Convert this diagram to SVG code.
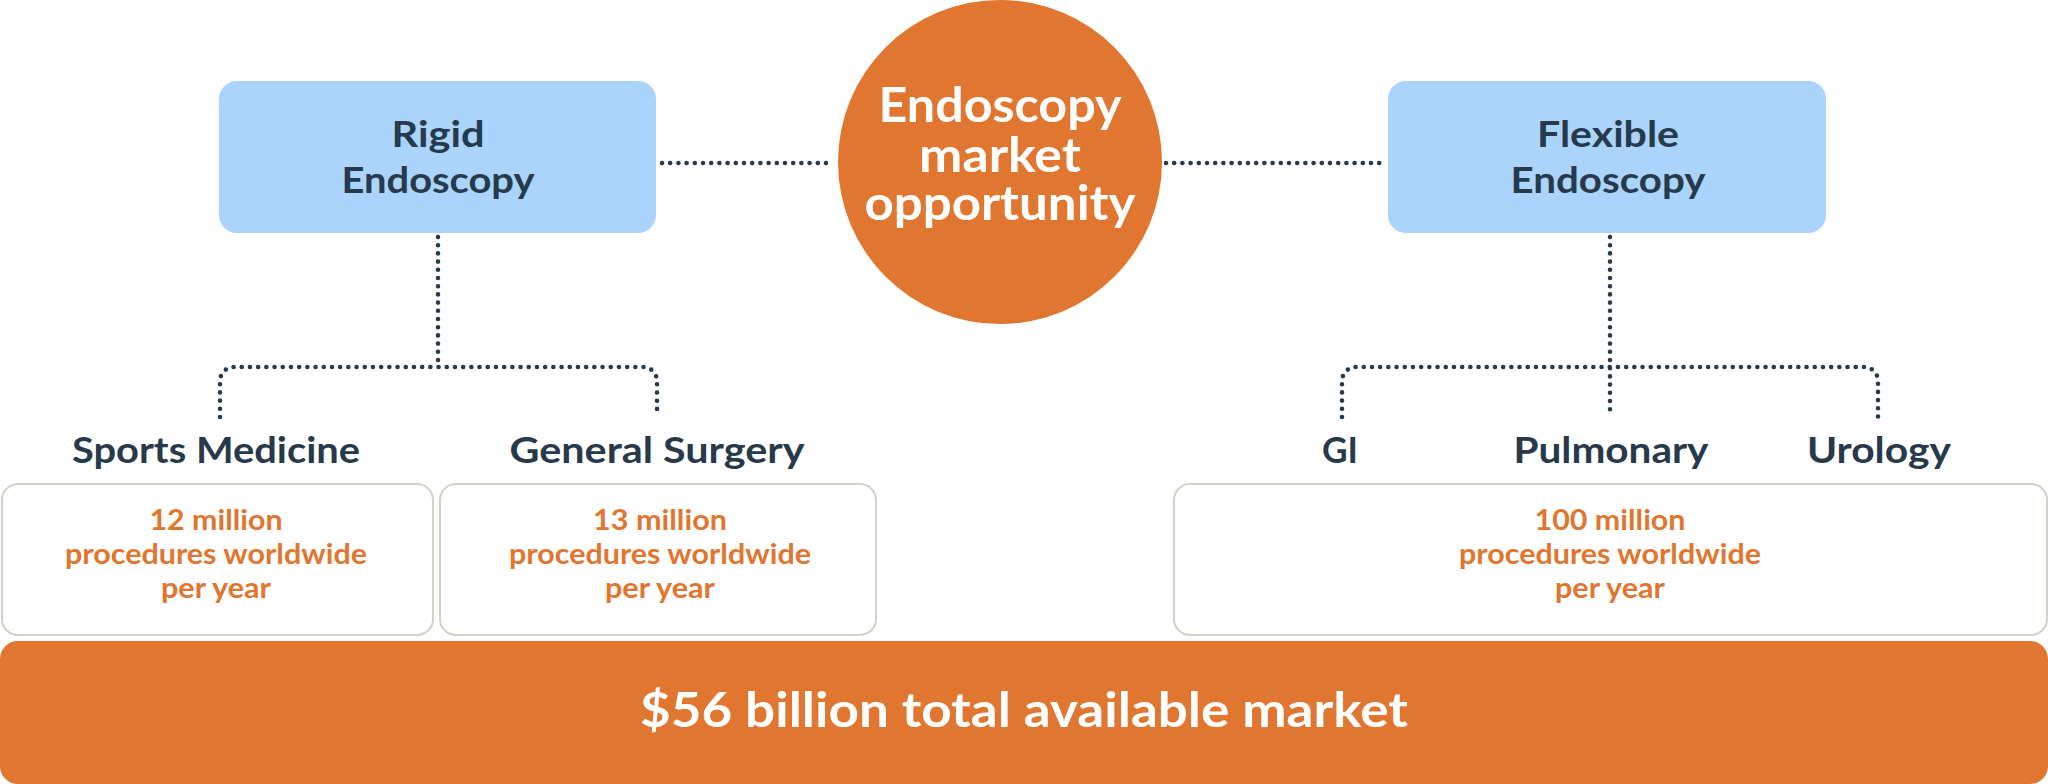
<svg xmlns="http://www.w3.org/2000/svg" width="2048" height="784" viewBox="0 0 2048 784">
<style>
.cat{fill:#aad4fb}
.card{fill:#ffffff;stroke:#d3d2c7;stroke-width:2}
.t{font-family:Lato,"Open Sans","Liberation Sans",sans-serif;font-weight:700;text-anchor:middle}
.navy{fill:#263a4c}
.org{fill:#e0762f}
.w{fill:#ffffff}
.dot{fill:none;stroke:#263a4c;stroke-width:4.6;stroke-linecap:round;stroke-dasharray:0 8.2}
</style>
<rect width="2048" height="784" fill="#ffffff"/>
<g id="connectors">
<path class="dot" d="M662 163H834"/>
<path class="dot" d="M1166 163H1384"/>
<path class="dot" d="M438 237V367"/>
<path class="dot" d="M220 417V381A14 14 0 0 1 234 367H643A14 14 0 0 1 657 381V417"/>
<path class="dot" d="M1610 237V417"/>
<path class="dot" d="M1342 417V381A14 14 0 0 1 1356 367H1864A14 14 0 0 1 1878 381V417"/>
</g>
<g id="center">
<circle cx="1000" cy="162" r="162" fill="#e0762f"/>
<text class="t w" x="1000" y="122" font-size="48" textLength="243" lengthAdjust="spacingAndGlyphs">Endoscopy</text>
<text class="t w" x="1000" y="172" font-size="48" textLength="162" lengthAdjust="spacingAndGlyphs">market</text>
<text class="t w" x="1000" y="220" font-size="48" textLength="271" lengthAdjust="spacingAndGlyphs">opportunity</text>
</g>
<g id="rigid">
<rect class="cat" x="219" y="81" width="437" height="152" rx="18"/>
<text class="t navy" x="438" y="147" font-size="37" textLength="93" lengthAdjust="spacingAndGlyphs">Rigid</text>
<text class="t navy" x="438" y="193" font-size="37" textLength="193" lengthAdjust="spacingAndGlyphs">Endoscopy</text>
</g>
<g id="flexible">
<rect class="cat" x="1388" y="81" width="438" height="152" rx="18"/>
<text class="t navy" x="1608" y="147" font-size="37" textLength="142" lengthAdjust="spacingAndGlyphs">Flexible</text>
<text class="t navy" x="1608" y="193" font-size="37" textLength="195" lengthAdjust="spacingAndGlyphs">Endoscopy</text>
</g>
<g id="sports">
<text class="t navy" x="216" y="463" font-size="37" textLength="288" lengthAdjust="spacingAndGlyphs">Sports Medicine</text>
</g>
<g id="general">
<text class="t navy" x="657" y="463" font-size="37" textLength="295" lengthAdjust="spacingAndGlyphs">General Surgery</text>
</g>
<g id="gi">
<text class="t navy" x="1340" y="463" font-size="37" textLength="36" lengthAdjust="spacingAndGlyphs">GI</text>
</g>
<g id="pulmonary">
<text class="t navy" x="1611" y="463" font-size="37" textLength="195" lengthAdjust="spacingAndGlyphs">Pulmonary</text>
</g>
<g id="urology">
<text class="t navy" x="1879" y="463" font-size="37" textLength="144" lengthAdjust="spacingAndGlyphs">Urology</text>
</g>
<g id="card-sports">
<rect class="card" x="2" y="484" width="431" height="151" rx="16"/>
<text class="t org" x="216" y="530" font-size="29" textLength="133" lengthAdjust="spacingAndGlyphs">12 million</text>
<text class="t org" x="216" y="564" font-size="29" textLength="302" lengthAdjust="spacingAndGlyphs">procedures worldwide</text>
<text class="t org" x="216" y="598" font-size="29" textLength="110" lengthAdjust="spacingAndGlyphs">per year</text>
</g>
<g id="card-general">
<rect class="card" x="440" y="484" width="436" height="151" rx="16"/>
<text class="t org" x="660" y="530" font-size="29" textLength="134" lengthAdjust="spacingAndGlyphs">13 million</text>
<text class="t org" x="660" y="564" font-size="29" textLength="302" lengthAdjust="spacingAndGlyphs">procedures worldwide</text>
<text class="t org" x="660" y="598" font-size="29" textLength="110" lengthAdjust="spacingAndGlyphs">per year</text>
</g>
<g id="card-flexible">
<rect class="card" x="1174" y="484" width="873" height="151" rx="16"/>
<text class="t org" x="1610" y="530" font-size="29" textLength="151" lengthAdjust="spacingAndGlyphs">100 million</text>
<text class="t org" x="1610" y="564" font-size="29" textLength="302" lengthAdjust="spacingAndGlyphs">procedures worldwide</text>
<text class="t org" x="1610" y="598" font-size="29" textLength="110" lengthAdjust="spacingAndGlyphs">per year</text>
</g>
<g id="total">
<rect x="0" y="641" width="2048" height="143" rx="18" fill="#e0762f"/>
<text class="t w" x="1024" y="727" font-size="48" textLength="768" lengthAdjust="spacingAndGlyphs">$56 billion total available market</text>
</g>
</svg>
